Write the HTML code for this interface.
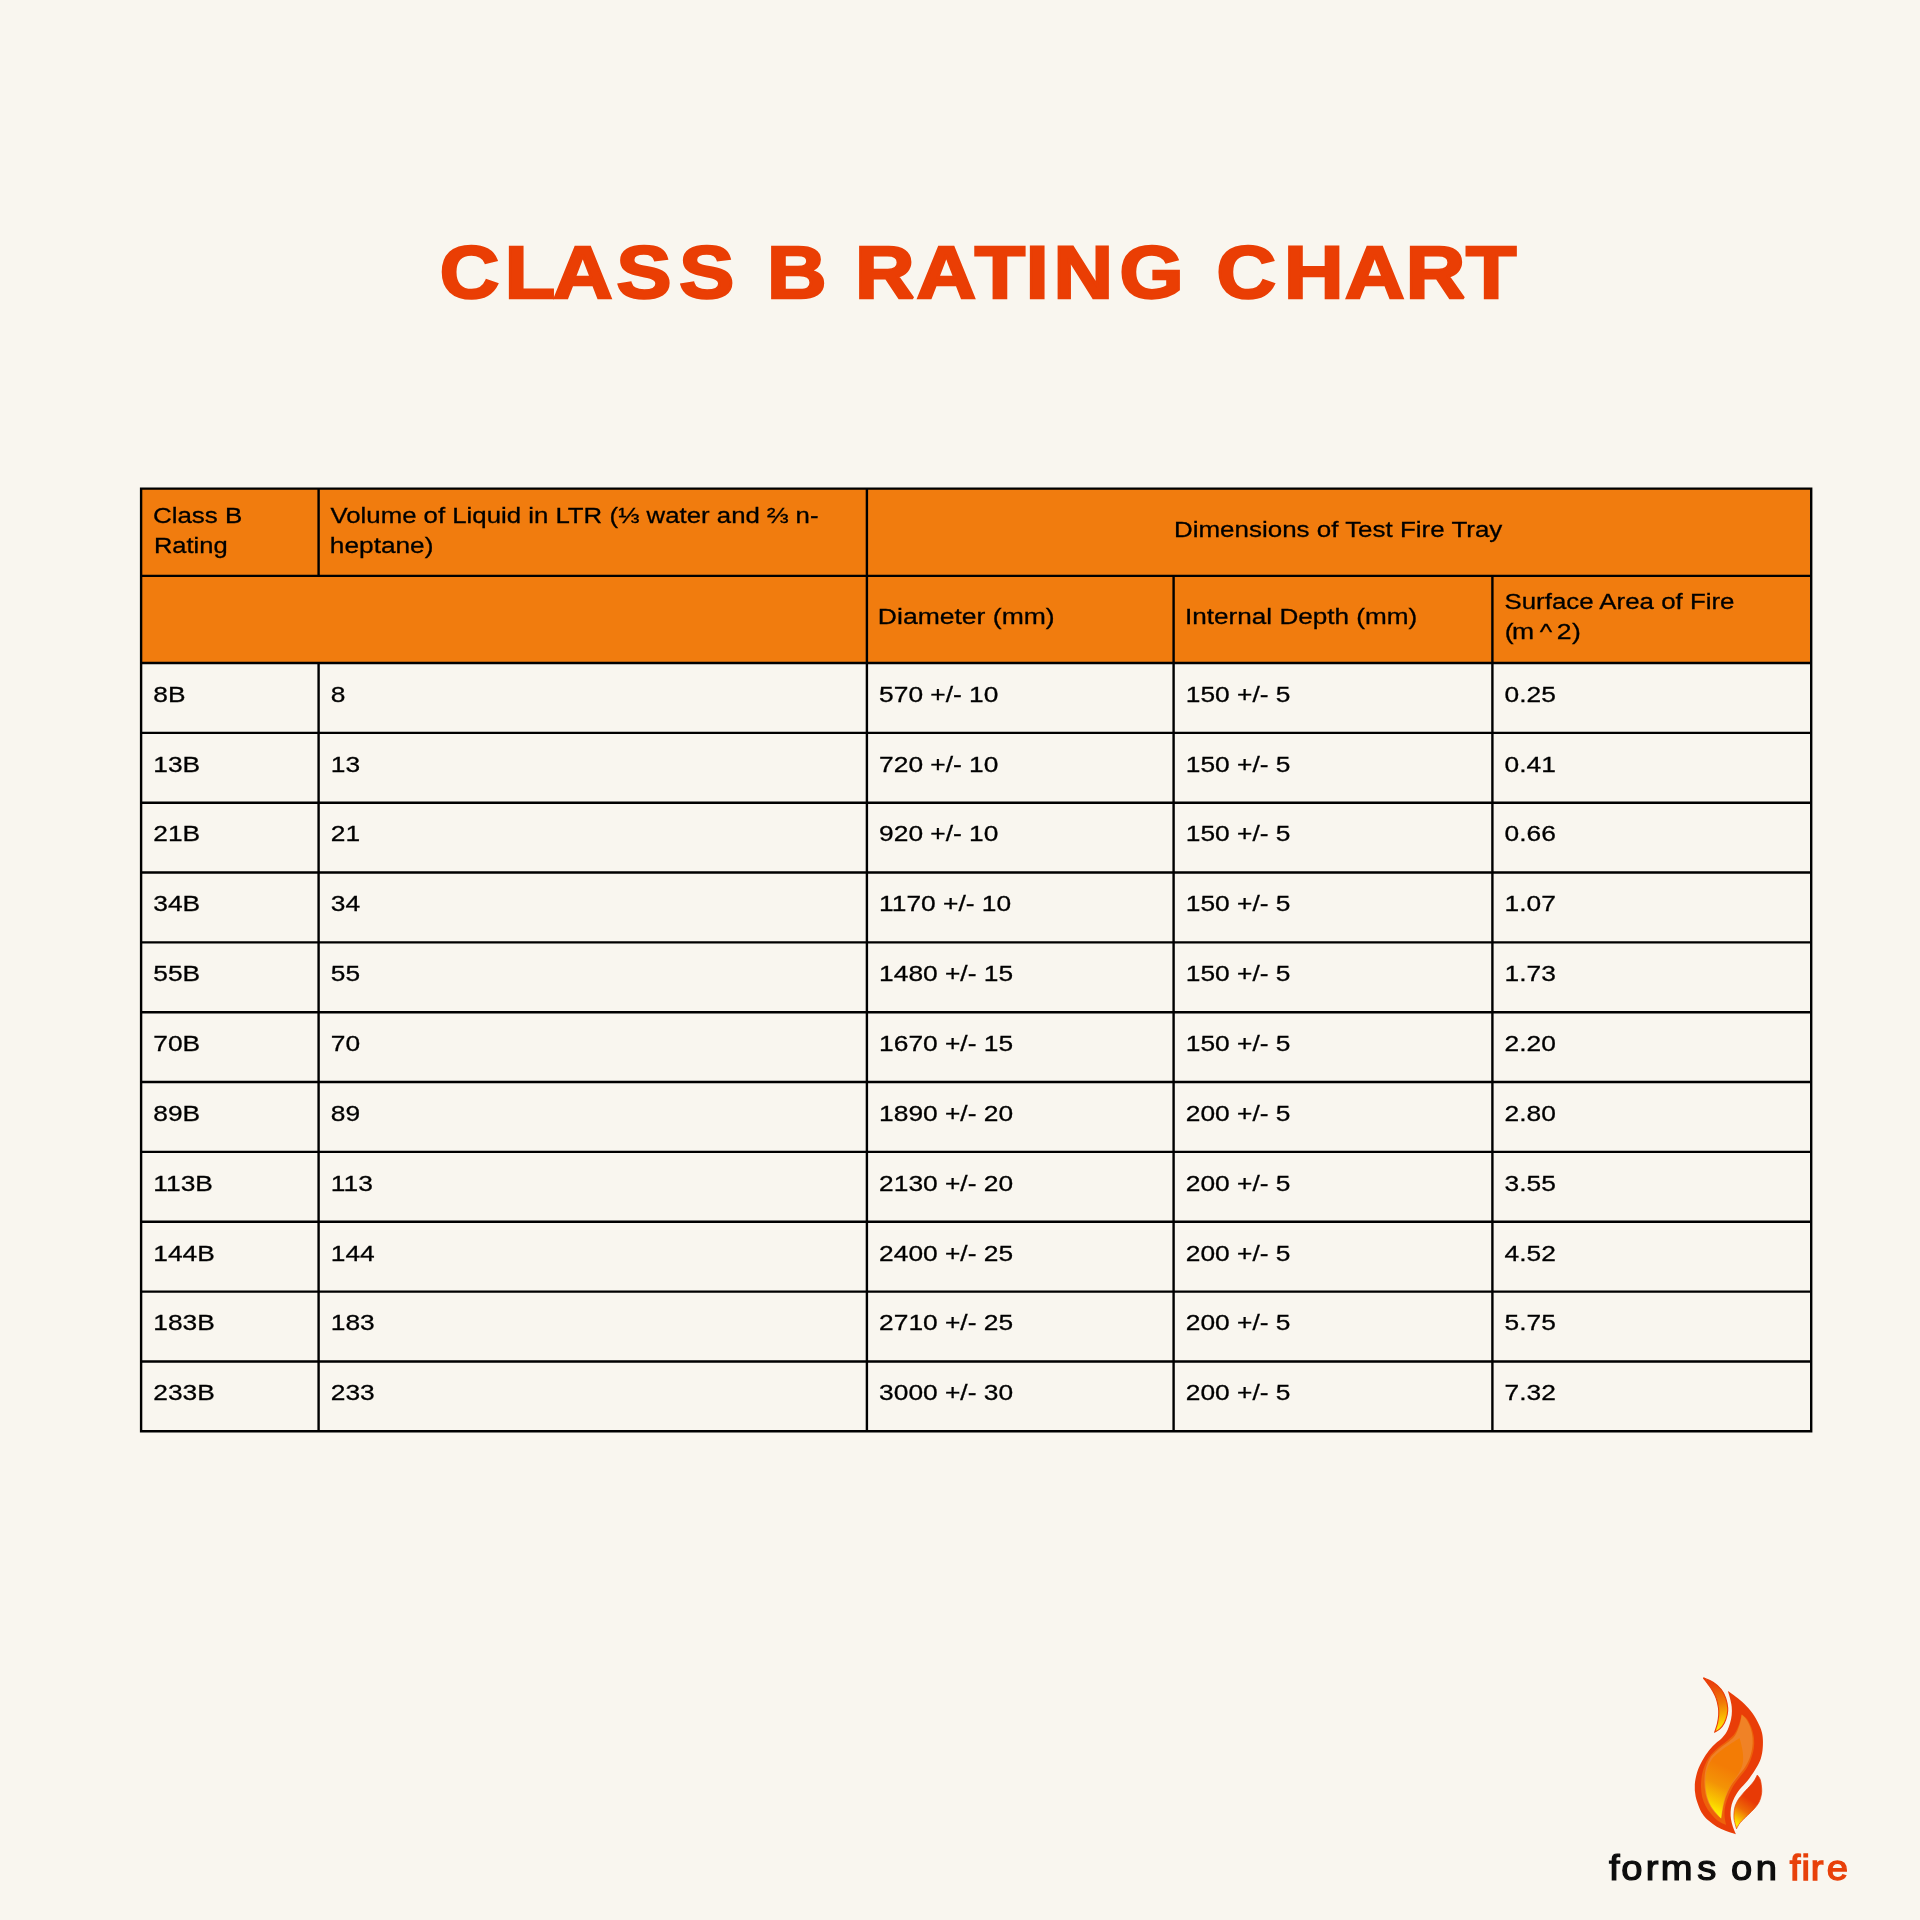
<!DOCTYPE html>
<html lang="en"><head><meta charset="utf-8"><title>Class B Rating Chart</title>
<style>
html,body{margin:0;padding:0;background:#F9F6EF;}
body{width:1920px;height:1920px;overflow:hidden;position:relative;}
svg{position:absolute;left:0;top:0;will-change:transform;}
text{font-family:"Liberation Sans",Arial,sans-serif;}
.t{font-size:73.50px;font-weight:bold;fill:#EA3E04;stroke:#EA3E04;stroke-width:2.50px;stroke-linejoin:miter;stroke-miterlimit:2;}
.b{font-size:22.70px;fill:#000;stroke:#000;stroke-width:0.30px;}
.w{font-size:34.30px;fill:#0d0d0d;stroke:#0d0d0d;stroke-width:1.2px;}
.wf{fill:#E8400A;stroke:#E8400A;stroke-width:1.3px;}
</style></head><body>
<svg width="1920" height="1920" viewBox="0 0 1920 1920">
<rect x="141.10" y="488.60" width="1670.10" height="174.40" fill="#F17C0E"/>
<path d="M139.90 488.60H1812.40M139.90 575.90H1812.40M139.90 663.00H1812.40M139.90 732.85H1812.40M139.90 802.69H1812.40M139.90 872.54H1812.40M139.90 942.38H1812.40M139.90 1012.23H1812.40M139.90 1082.07H1812.40M139.90 1151.92H1812.40M139.90 1221.76H1812.40M139.90 1291.61H1812.40M139.90 1361.45H1812.40M139.90 1431.30H1812.40M141.10 487.40V1432.50M1811.20 487.40V1432.50M318.60 488.60V575.90M318.60 663.00V1431.30M866.90 488.60V1431.30M1173.60 575.90V1431.30M1492.40 575.90V1431.30" stroke="#000" stroke-width="2.40" fill="none"/>
<defs>
<linearGradient id="gcore" gradientUnits="userSpaceOnUse" x1="1736" y1="1772" x2="1715" y2="1815">
<stop offset="0" stop-color="#F37C05"/><stop offset="0.4" stop-color="#F39306"/><stop offset="0.75" stop-color="#F9C800"/><stop offset="1" stop-color="#FFF700"/></linearGradient>
<linearGradient id="gsmall" gradientUnits="userSpaceOnUse" x1="1752" y1="1801" x2="1737" y2="1824">
<stop offset="0" stop-color="#E83A06"/><stop offset="0.45" stop-color="#EE6A06"/><stop offset="1" stop-color="#FFE800"/></linearGradient>
<linearGradient id="gcres" gradientUnits="userSpaceOnUse" x1="1712" y1="1684" x2="1720" y2="1728">
<stop offset="0" stop-color="#E9420A"/><stop offset="0.45" stop-color="#F07A06"/><stop offset="1" stop-color="#FFE400"/></linearGradient>
</defs>
<path d="M1727.90 1691.00C1729.48 1692.14 1733.08 1694.58 1735.80 1696.70C1738.52 1698.83 1741.42 1700.98 1744.20 1703.75C1746.98 1706.52 1750.15 1710.04 1752.50 1713.30C1754.85 1716.56 1756.77 1720.23 1758.30 1723.30C1759.83 1726.37 1760.93 1728.92 1761.70 1731.70C1762.47 1734.48 1762.77 1736.88 1762.90 1740.00C1763.03 1743.12 1762.98 1746.93 1762.50 1750.40C1762.02 1753.87 1761.25 1757.53 1760.00 1760.80C1758.75 1764.07 1757.12 1766.63 1755.00 1770.00C1752.88 1773.37 1749.87 1777.75 1747.30 1781.00C1744.73 1784.25 1741.72 1786.78 1739.60 1789.50C1737.48 1792.22 1735.92 1794.78 1734.60 1797.30C1733.28 1799.82 1732.37 1802.17 1731.70 1804.60C1731.03 1807.03 1730.72 1809.47 1730.60 1811.90C1730.48 1814.33 1730.63 1816.77 1731.00 1819.20C1731.37 1821.63 1731.98 1823.98 1732.80 1826.50C1733.62 1829.02 1735.28 1832.74 1735.90 1834.30C1733.82 1833.60 1728.75 1832.10 1725.50 1830.80C1722.25 1829.50 1719.13 1828.13 1716.40 1826.50C1713.67 1824.87 1711.23 1822.83 1709.10 1821.00C1706.97 1819.17 1705.22 1817.67 1703.60 1815.50C1701.98 1813.33 1700.73 1811.20 1699.40 1808.00C1698.07 1804.80 1696.37 1800.22 1695.60 1796.30C1694.83 1792.38 1694.57 1788.42 1694.80 1784.50C1695.03 1780.58 1696.07 1776.18 1697.00 1772.80C1697.93 1769.42 1699.13 1766.88 1700.40 1764.20C1701.67 1761.52 1703.00 1759.20 1704.60 1756.70C1706.20 1754.20 1708.13 1751.43 1710.00 1749.20C1711.87 1746.97 1713.92 1745.04 1715.80 1743.30C1717.67 1741.56 1719.43 1740.68 1721.25 1738.75C1723.07 1736.82 1725.24 1734.28 1726.70 1731.70C1728.16 1729.12 1729.17 1726.08 1730.00 1723.30C1730.83 1720.52 1731.42 1717.77 1731.70 1715.00C1731.98 1712.23 1731.98 1709.48 1731.70 1706.70C1731.42 1703.92 1730.63 1700.92 1730.00 1698.30C1729.37 1695.68 1728.32 1692.46 1727.90 1691.00Z" fill="#E93D08"/>
<path d="M1741.70 1714.20C1742.76 1715.16 1745.38 1716.78 1747.00 1719.00C1748.62 1721.22 1750.23 1724.33 1751.40 1727.50C1752.57 1730.67 1753.60 1734.53 1754.00 1738.00C1754.40 1741.47 1754.30 1744.80 1753.80 1748.30C1753.30 1751.80 1752.22 1755.63 1751.00 1759.00C1749.78 1762.37 1748.42 1765.42 1746.50 1768.50C1744.58 1771.58 1741.75 1774.50 1739.50 1777.50C1737.25 1780.50 1734.83 1783.42 1733.00 1786.50C1731.17 1789.58 1729.75 1792.92 1728.50 1796.00C1727.25 1799.08 1726.17 1802.17 1725.50 1805.00C1724.83 1807.83 1724.57 1810.50 1724.50 1813.00C1724.43 1815.50 1724.82 1818.00 1725.10 1820.00C1725.38 1822.00 1725.98 1824.00 1726.20 1825.00C1724.60 1824.20 1720.75 1822.88 1718.20 1821.00C1715.65 1819.12 1713.00 1816.20 1710.90 1813.70C1708.80 1811.20 1707.05 1808.78 1705.60 1806.00C1704.15 1803.22 1702.97 1800.17 1702.20 1797.00C1701.43 1793.83 1701.07 1790.50 1701.00 1787.00C1700.93 1783.50 1701.22 1779.50 1701.80 1776.00C1702.38 1772.50 1703.38 1769.00 1704.50 1766.00C1705.62 1763.00 1706.92 1760.42 1708.50 1758.00C1710.08 1755.58 1712.00 1753.53 1714.00 1751.50C1716.00 1749.47 1718.25 1747.63 1720.50 1745.80C1722.75 1743.97 1725.25 1742.38 1727.50 1740.50C1729.75 1738.62 1732.28 1736.67 1734.00 1734.50C1735.72 1732.33 1736.77 1729.83 1737.80 1727.50C1738.83 1725.17 1739.55 1722.72 1740.20 1720.50C1740.85 1718.28 1741.40 1715.46 1741.70 1714.20Z" fill="#EE620A"/>
<path d="M1741.70 1714.80C1742.61 1715.68 1744.80 1717.08 1746.25 1719.20C1747.70 1721.32 1749.34 1724.38 1750.40 1727.50C1751.46 1730.62 1752.30 1734.43 1752.60 1737.90C1752.90 1741.37 1752.75 1744.78 1752.20 1748.30C1751.65 1751.82 1750.58 1755.72 1749.30 1759.00C1748.02 1762.28 1746.50 1765.00 1744.50 1768.00C1742.50 1771.00 1739.58 1774.00 1737.30 1777.00C1735.02 1780.00 1732.63 1782.83 1730.80 1786.00C1728.97 1789.17 1727.50 1792.67 1726.30 1796.00C1725.10 1799.33 1724.27 1803.08 1723.60 1806.00C1722.93 1808.92 1722.68 1811.40 1722.30 1813.50C1721.92 1815.60 1721.50 1817.58 1721.30 1818.60C1720.24 1817.68 1717.80 1815.93 1716.00 1814.00C1714.20 1812.07 1712.07 1809.67 1710.50 1807.00C1708.93 1804.33 1707.58 1801.33 1706.60 1798.00C1705.62 1794.67 1704.93 1790.67 1704.60 1787.00C1704.27 1783.33 1704.27 1779.50 1704.60 1776.00C1704.93 1772.50 1705.67 1769.00 1706.60 1766.00C1707.53 1763.00 1708.72 1760.33 1710.20 1758.00C1711.68 1755.67 1713.53 1753.92 1715.50 1752.00C1717.47 1750.08 1719.75 1748.25 1722.00 1746.50C1724.25 1744.75 1726.83 1743.33 1729.00 1741.50C1731.17 1739.67 1733.42 1737.75 1735.00 1735.50C1736.58 1733.25 1737.57 1730.42 1738.50 1728.00C1739.43 1725.58 1740.07 1723.20 1740.60 1721.00C1741.13 1718.80 1741.48 1716.04 1741.70 1714.80Z" fill="#F08226"/>
<path d="M1739.60 1737.90C1739.93 1739.16 1740.68 1741.52 1741.25 1744.20C1741.82 1746.88 1742.78 1750.70 1743.00 1754.00C1743.22 1757.30 1743.33 1760.75 1742.60 1764.00C1741.87 1767.25 1740.33 1770.42 1738.60 1773.50C1736.87 1776.58 1734.10 1779.42 1732.20 1782.50C1730.30 1785.58 1728.60 1788.75 1727.20 1792.00C1725.80 1795.25 1724.65 1798.83 1723.80 1802.00C1722.95 1805.17 1722.55 1808.27 1722.10 1811.00C1721.65 1813.73 1721.30 1816.92 1721.10 1818.40C1720.14 1817.36 1717.95 1815.18 1716.30 1813.20C1714.65 1811.22 1712.67 1809.03 1711.20 1806.50C1709.73 1803.97 1708.45 1801.25 1707.50 1798.00C1706.55 1794.75 1705.82 1790.50 1705.50 1787.00C1705.18 1783.50 1705.27 1780.17 1705.60 1777.00C1705.93 1773.83 1706.57 1770.80 1707.50 1768.00C1708.43 1765.20 1709.70 1762.50 1711.20 1760.20C1712.70 1757.90 1714.48 1756.10 1716.50 1754.20C1718.52 1752.30 1720.77 1750.67 1723.30 1748.80C1725.83 1746.93 1728.98 1744.82 1731.70 1743.00C1734.42 1741.18 1738.02 1738.92 1739.60 1737.90Z" fill="url(#gcore)"/>
<path d="M1757.30 1775.00C1757.90 1775.96 1759.57 1777.43 1760.30 1779.80C1761.03 1782.17 1761.55 1786.58 1761.70 1789.20C1761.85 1791.82 1761.63 1793.37 1761.20 1795.50C1760.77 1797.63 1760.18 1799.88 1759.10 1802.00C1758.02 1804.12 1756.65 1805.95 1754.70 1808.20C1752.75 1810.45 1749.83 1813.07 1747.40 1815.50C1744.97 1817.93 1741.92 1820.58 1740.10 1822.80C1738.28 1825.02 1737.22 1827.60 1736.50 1828.80C1736.06 1827.14 1734.73 1822.72 1734.30 1820.50C1733.87 1818.28 1733.90 1817.20 1733.90 1815.50C1733.90 1813.80 1734.08 1811.88 1734.30 1810.30C1734.52 1808.72 1734.78 1807.35 1735.20 1806.00C1735.62 1804.65 1736.18 1803.43 1736.80 1802.20C1737.42 1800.97 1738.00 1799.90 1738.90 1798.60C1739.80 1797.30 1741.03 1795.80 1742.20 1794.40C1743.37 1793.00 1744.70 1791.50 1745.90 1790.20C1747.10 1788.90 1748.05 1788.12 1749.40 1786.60C1750.75 1785.08 1752.68 1783.03 1754.00 1781.10C1755.32 1779.17 1756.64 1776.22 1757.30 1775.00Z" fill="url(#gsmall)" stroke="#E93D08" stroke-width="0.7"/>
<path d="M1703.30 1677.80C1705.32 1678.74 1710.41 1680.55 1713.40 1682.50C1716.39 1684.45 1719.20 1686.90 1721.25 1689.50C1723.30 1692.10 1724.62 1695.02 1725.70 1698.10C1726.78 1701.18 1727.47 1705.18 1727.70 1708.00C1727.93 1710.82 1727.68 1712.45 1727.10 1715.00C1726.52 1717.55 1725.45 1720.93 1724.20 1723.30C1722.95 1725.67 1721.17 1727.77 1719.60 1729.20C1718.03 1730.63 1715.76 1731.36 1714.80 1731.90C1715.34 1730.18 1716.85 1726.12 1717.50 1723.30C1718.15 1720.48 1718.53 1717.55 1718.70 1715.00C1718.87 1712.45 1718.88 1710.70 1718.50 1708.00C1718.12 1705.30 1717.32 1701.55 1716.40 1698.80C1715.48 1696.05 1714.18 1693.67 1713.00 1691.50C1711.82 1689.33 1710.92 1688.08 1709.30 1685.80C1707.68 1683.52 1704.50 1679.40 1703.30 1677.80Z" fill="url(#gcres)" stroke="#E93D08" stroke-width="1.1"/>
<text class="t" transform="matrix(1.1208 0 0 1 0 297.50)" x="392.28 450.30 493.38 549.98 605.97 654.99 684.35 737.43 762.84 817.70 869.61 915.25 939.88 998.76 1055.93 1085.34 1145.67 1200.09 1254.17 1307.99">CLASS B RATING CHART</text>
<text class="b" transform="matrix(1.1421 0 0 1 152.92 522.50)">Class B</text>
<text class="b" transform="matrix(1.1241 0 0 1 153.88 552.80)">Rating</text>
<text class="b" transform="matrix(1.1358 0 0 1 330.50 522.50)">Volume of Liquid in LTR (⅓ water and ⅔ n-</text>
<text class="b" transform="matrix(1.1567 0 0 1 329.84 552.80)">heptane)</text>
<text class="b" transform="matrix(1.1439 0 0 1 1173.96 536.70)">Dimensions of Test Fire Tray</text>
<text class="b" transform="matrix(1.1691 0 0 1 877.83 624.00)">Diameter (mm)</text>
<text class="b" transform="matrix(1.1508 0 0 1 1185.00 624.00)">Internal Depth (mm)</text>
<text class="b" transform="matrix(1.1395 0 0 1 1504.46 609.10)">Surface Area of Fire</text>
<text class="b" transform="matrix(1.1700 0 0 1 1504.63 638.90)" x="0.00 6.24 30.06 44.53 57.50">(m^2)</text>
<text class="b" transform="matrix(1.1600 0 0 1 153.30 701.80)">8B</text>
<text class="b" transform="matrix(1.1600 0 0 1 330.80 701.80)">8</text>
<text class="b" transform="matrix(1.1600 0 0 1 879.10 701.80)">570 +/- 10</text>
<text class="b" transform="matrix(1.1600 0 0 1 1185.80 701.80)">150 +/- 5</text>
<text class="b" transform="matrix(1.1600 0 0 1 1504.60 701.80)">0.25</text>
<text class="b" transform="matrix(1.1600 0 0 1 153.30 771.65)">13B</text>
<text class="b" transform="matrix(1.1600 0 0 1 330.80 771.65)">13</text>
<text class="b" transform="matrix(1.1600 0 0 1 879.10 771.65)">720 +/- 10</text>
<text class="b" transform="matrix(1.1600 0 0 1 1185.80 771.65)">150 +/- 5</text>
<text class="b" transform="matrix(1.1600 0 0 1 1504.60 771.65)">0.41</text>
<text class="b" transform="matrix(1.1600 0 0 1 153.30 841.49)">21B</text>
<text class="b" transform="matrix(1.1600 0 0 1 330.80 841.49)">21</text>
<text class="b" transform="matrix(1.1600 0 0 1 879.10 841.49)">920 +/- 10</text>
<text class="b" transform="matrix(1.1600 0 0 1 1185.80 841.49)">150 +/- 5</text>
<text class="b" transform="matrix(1.1600 0 0 1 1504.60 841.49)">0.66</text>
<text class="b" transform="matrix(1.1600 0 0 1 153.30 911.34)">34B</text>
<text class="b" transform="matrix(1.1600 0 0 1 330.80 911.34)">34</text>
<text class="b" transform="matrix(1.1600 0 0 1 879.10 911.34)">1170 +/- 10</text>
<text class="b" transform="matrix(1.1600 0 0 1 1185.80 911.34)">150 +/- 5</text>
<text class="b" transform="matrix(1.1600 0 0 1 1504.60 911.34)">1.07</text>
<text class="b" transform="matrix(1.1600 0 0 1 153.30 981.18)">55B</text>
<text class="b" transform="matrix(1.1600 0 0 1 330.80 981.18)">55</text>
<text class="b" transform="matrix(1.1600 0 0 1 879.10 981.18)">1480 +/- 15</text>
<text class="b" transform="matrix(1.1600 0 0 1 1185.80 981.18)">150 +/- 5</text>
<text class="b" transform="matrix(1.1600 0 0 1 1504.60 981.18)">1.73</text>
<text class="b" transform="matrix(1.1600 0 0 1 153.30 1051.03)">70B</text>
<text class="b" transform="matrix(1.1600 0 0 1 330.80 1051.03)">70</text>
<text class="b" transform="matrix(1.1600 0 0 1 879.10 1051.03)">1670 +/- 15</text>
<text class="b" transform="matrix(1.1600 0 0 1 1185.80 1051.03)">150 +/- 5</text>
<text class="b" transform="matrix(1.1600 0 0 1 1504.60 1051.03)">2.20</text>
<text class="b" transform="matrix(1.1600 0 0 1 153.30 1120.87)">89B</text>
<text class="b" transform="matrix(1.1600 0 0 1 330.80 1120.87)">89</text>
<text class="b" transform="matrix(1.1600 0 0 1 879.10 1120.87)">1890 +/- 20</text>
<text class="b" transform="matrix(1.1600 0 0 1 1185.80 1120.87)">200 +/- 5</text>
<text class="b" transform="matrix(1.1600 0 0 1 1504.60 1120.87)">2.80</text>
<text class="b" transform="matrix(1.1600 0 0 1 153.30 1190.72)">113B</text>
<text class="b" transform="matrix(1.1600 0 0 1 330.80 1190.72)">113</text>
<text class="b" transform="matrix(1.1600 0 0 1 879.10 1190.72)">2130 +/- 20</text>
<text class="b" transform="matrix(1.1600 0 0 1 1185.80 1190.72)">200 +/- 5</text>
<text class="b" transform="matrix(1.1600 0 0 1 1504.60 1190.72)">3.55</text>
<text class="b" transform="matrix(1.1600 0 0 1 153.30 1260.56)">144B</text>
<text class="b" transform="matrix(1.1600 0 0 1 330.80 1260.56)">144</text>
<text class="b" transform="matrix(1.1600 0 0 1 879.10 1260.56)">2400 +/- 25</text>
<text class="b" transform="matrix(1.1600 0 0 1 1185.80 1260.56)">200 +/- 5</text>
<text class="b" transform="matrix(1.1600 0 0 1 1504.60 1260.56)">4.52</text>
<text class="b" transform="matrix(1.1600 0 0 1 153.30 1330.41)">183B</text>
<text class="b" transform="matrix(1.1600 0 0 1 330.80 1330.41)">183</text>
<text class="b" transform="matrix(1.1600 0 0 1 879.10 1330.41)">2710 +/- 25</text>
<text class="b" transform="matrix(1.1600 0 0 1 1185.80 1330.41)">200 +/- 5</text>
<text class="b" transform="matrix(1.1600 0 0 1 1504.60 1330.41)">5.75</text>
<text class="b" transform="matrix(1.1600 0 0 1 153.30 1400.25)">233B</text>
<text class="b" transform="matrix(1.1600 0 0 1 330.80 1400.25)">233</text>
<text class="b" transform="matrix(1.1600 0 0 1 879.10 1400.25)">3000 +/- 30</text>
<text class="b" transform="matrix(1.1600 0 0 1 1185.80 1400.25)">200 +/- 5</text>
<text class="b" transform="matrix(1.1600 0 0 1 1504.60 1400.25)">7.32</text>
<text class="w" transform="matrix(1.1128 0 0 1 0 1879.60)" x="1445.86 1456.86 1478.91 1492.48 1525.31 1542.46 1555.44 1577.72 1596.80">forms on <tspan class="wf" x="1608.28 1618.81 1627.27 1641.62">fire</tspan></text>
</svg>
</body></html>
